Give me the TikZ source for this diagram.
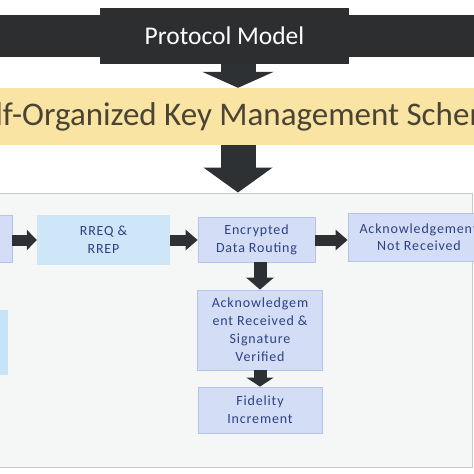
\documentclass[tikz,border=0pt]{standalone}
\usepackage{fontspec}
\setmainfont{Carlito}
\newfontfamily\boxfont[LetterSpace=6]{Carlito}
\usetikzlibrary{arrows.meta}
\definecolor{darkband}{HTML}{2C2E30}
\definecolor{yellowband}{HTML}{F9E4A4}
\definecolor{yellowtext}{HTML}{4A4434}
\definecolor{panelbg}{HTML}{F5F7F7}
\definecolor{panelline}{HTML}{C6CACA}
\definecolor{boxtext}{HTML}{2F4185}
\definecolor{skyfill}{HTML}{CDE6F8}
\definecolor{leftsky}{HTML}{C6E4F9}
\definecolor{lavfill}{HTML}{D3DDF6}
\definecolor{lavline}{HTML}{B3C3EA}
\definecolor{arrowcol}{HTML}{2E3134}
\tikzset{
  box/.style={rectangle, inner sep=0pt, align=center, text=boxtext,
    font=\boxfont\fontsize{14}{18}\selectfont},
  lavbox/.style={box, fill=lavfill, draw=lavline, line width=0.8pt},
  skybox/.style={box, fill=skyfill},
  blockarrow/.style={draw=arrowcol, line width=#1},
}
\begin{document}
\begin{tikzpicture}[x=1pt, y=-1pt]
\useasboundingbox (0,0) rectangle (474,474);
\fill[white] (0,0) rectangle (474,474);
% top dark band
\fill[darkband] (0,15) rectangle (474,57);
\node[rectangle, fill=darkband, minimum width=249pt, minimum height=56pt, inner sep=0pt,
  text=white, font=\fontsize{25.5}{28}\selectfont] (proto) at (224.5,36) {Protocol Model};
% yellow band
\node[rectangle, fill=yellowband, minimum width=490pt, minimum height=57pt, inner sep=0pt,
  text=yellowtext, font=\fontsize{33}{36}\selectfont] (scheme) at (238,116.5)
  {Self-Organized Key Management Scheme};
% panel
\node[rectangle, fill=panelbg, draw=panelline, line width=1pt, minimum width=482pt,
  minimum height=274pt, inner sep=0pt] (panel) at (231,330) {};
% boxes
\node[lavbox, minimum width=32pt, minimum height=47pt] (left1) at (-4,238.5) {};
\node[skybox, minimum width=133pt, minimum height=50pt] (rreq) at (103.5,240) {RREQ \&\\RREP};
\node[lavbox, minimum width=117pt, minimum height=45pt] (enc) at (256.5,239.5) {Encrypted\\Data Routing};
\node[lavbox, minimum width=142pt, minimum height=48pt, font=\boxfont\fontsize{14}{17}\selectfont] (acknr) at (419,237)
  {\hspace*{-1pt}Acknowledgement\\Not Received};
\node[lavbox, minimum width=125pt, minimum height=80pt] (ackr) at (260,330)
  {Acknowledgem\\ent Received \&\\Signature\\Verified};
\node[lavbox, minimum width=124pt, minimum height=46pt] (fid) at (260,410) {Fidelity\\Increment};
\node[box, fill=leftsky, minimum width=28pt, minimum height=65pt] (left2) at (-6,342.5) {};
% arrows
\draw[blockarrow=35pt, -{Triangle[width=71pt, length=16pt]}] (proto.south -| scheme.north) -- (scheme.north);
\draw[blockarrow=35pt, -{Triangle[width=68pt, length=25pt]}] (scheme.south) -- (scheme.south |- panel.north);
\draw[blockarrow=11pt, -{Triangle[width=20pt, length=10pt]}] (left1.east |- 0,240) -- (rreq.west |- 0,240);
\draw[blockarrow=11pt, -{Triangle[width=20pt, length=12pt]}] (rreq.east |- 0,240) -- (enc.west |- 0,240);
\draw[blockarrow=11pt, -{Triangle[width=20pt, length=12pt]}] (enc.east |- 0,240) -- (acknr.west |- 0,240);
\draw[blockarrow=13pt, -{Triangle[width=27pt, length=12pt]}] (ackr.north |- enc.south) -- (ackr.north);
\draw[blockarrow=13pt, -{Triangle[width=27pt, length=9pt]}] (ackr.south) -- (fid.north);
\end{tikzpicture}
\end{document}
